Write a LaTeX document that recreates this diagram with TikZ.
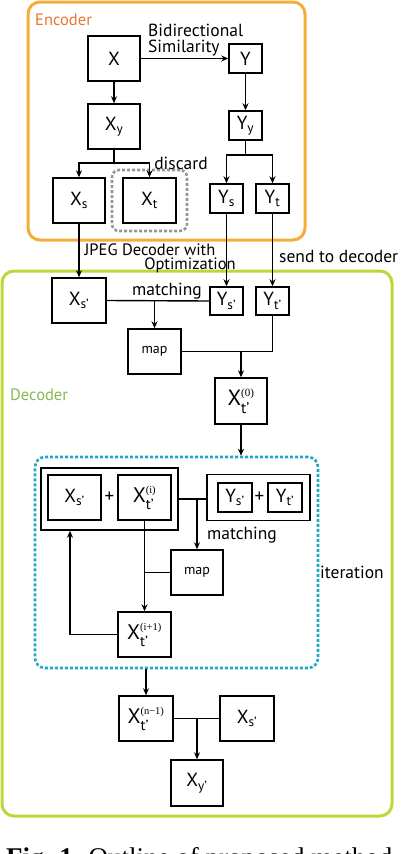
\documentclass[tikz,border=0pt]{standalone}
\usepackage{fontspec}
\usepackage{amsmath}
\setmainfont{PT Sans}
\newfontfamily\capfont{Liberation Serif}
\usetikzlibrary{arrows.meta}

\definecolor{encorange}{RGB}{246,172,58}
\definecolor{enctext}{RGB}{232,118,52}
\definecolor{decgreen}{RGB}{190,214,58}
\definecolor{dectext}{RGB}{130,186,80}
\definecolor{itercyan}{RGB}{30,168,200}
\definecolor{discgray}{RGB}{150,150,150}

\newcommand{\Xtsup}[1]{X$_{\text{t'}}^{\scriptscriptstyle\text{\capfont #1}}$}

\tikzset{
	blk/.style={draw, line width=1.5pt, inner sep=0pt, font=\fontsize{19}{19}\selectfont},
	big/.style={blk, minimum width=52pt, minimum height=45pt},
	sml/.style={blk, minimum width=33pt, minimum height=29pt},
	arr/.style={-{Stealth[length=7pt,width=6pt]}, line width=1.4pt},
	con/.style={line width=1.4pt},
	lbl/.style={font=\fontsize{17.5}{16.5}\selectfont, inner sep=0pt},
}

\begin{document}
\begin{tikzpicture}[x=1pt,y=-1pt]
	\useasboundingbox (0,0) rectangle (402,854);
	
	% frames
	\draw[encorange, line width=3pt, rounded corners=12pt] (28,2) rectangle (305,240);
	\draw[decgreen, line width=3pt, rounded corners=12pt] (2,271) rectangle (392,816);
	\node[draw=itercyan, line width=2.6pt, dash pattern=on 3pt off 2pt, rounded corners=10pt, minimum width=283pt, minimum height=211pt] (iter) at (176.5,562.5) {};
	\node[draw=discgray, line width=2.6pt, dash pattern=on 3pt off 2pt, rounded corners=7pt, minimum width=75pt, minimum height=61pt] (disc) at (149.5,200.5) {};
	
	\node[lbl, anchor=west, text=enctext, font=\fontsize{16.5}{16}\selectfont] (enc) at (35,20) {Encoder};
	\node[lbl, anchor=west, text=dectext, font=\fontsize{16.5}{16}\selectfont] (dec) at (10,395) {Decoder};
	
	% encoder
	\node[big] (X) at (114,58.5) {X};
	\node[sml] (Y) at (245.5,58.5) {Y};
	\node[big] (Xy) at (114,126.5) {X\textsubscript{y}};
	\node[sml] (Yy) at (245.5,125.5) {Y\textsubscript{y}};
	\node[big] (Xs) at (79,200.5) {X\textsubscript{s}};
	\node[big, minimum width=53pt] (Xt) at (149.5,200.5) {X\textsubscript{t}};
	\node[sml] (Ys) at (226.5,198.5) {Y\textsubscript{s}};
	\node[sml] (Yt) at (272.5,198.5) {Y\textsubscript{t}};
	
	\node[lbl, anchor=west, align=left] (bisim) at (148,40) {Bidirectional\\Similarity};
	\node[lbl] (discard) at (181,163) {discard};
	
	\coordinate (xsplit) at (114,163);
	\coordinate (ysplit) at (245.5,155);
	
	\draw[arr] (X.east) -- (Y.west);
	\draw[arr] (X.south) -- (Xy.north);
	\draw[arr] (Y.south) -- (Yy.north);
	\draw[con] (Xy.south) -- (xsplit);
	\draw[arr] (xsplit) -| (Xs.north);
	\draw[arr] (xsplit) -| (Xt.north);
	\draw[con] (Yy.south) -- (ysplit);
	\draw[arr] (ysplit) -| (Ys.north);
	\draw[arr] (ysplit) -| (Yt.north);
	
	% decoder
	\node[big, minimum width=54pt] (Xsp) at (79,300.5) {X\textsubscript{s'}};
	\node[sml, minimum height=28pt] (Ysp) at (226.5,301) {Y\textsubscript{s'}};
	\node[sml, minimum height=28pt] (Ytp) at (272.5,301) {Y\textsubscript{t'}};
	\node[big, minimum width=53pt, font=\fontsize{14}{14}\selectfont] (map) at (154.5,351.5) {map};
	\node[big, minimum height=46pt, font=\fontsize{22}{22}\selectfont] (Xt0) at (241,401) {\Xtsup{(0)}};
	
	\node[lbl, font=\fontsize{16.5}{16}\selectfont] (jpeg) at (150,250) {JPEG Decoder with};
	\node[lbl, font=\fontsize{16.5}{16}\selectfont] (optim) at (190,265.5) {Optimization};
	\node[lbl, anchor=west] (send) at (279,256) {send to decoder};
	\node[lbl] (match) at (167,291) {matching};
	
	\draw[arr] (Xs.south) -- (Xsp.north);
	\draw[arr] (Ys.south) -- (Ysp.north);
	\draw[arr] (Yt.south) -- (Ytp.north);
	\draw[con] (Xsp.east) -- (Ysp.west);
	\draw[arr] (map.north |- Xsp.east) -- (map.north);
	\draw[con] (map.east) -| (Ytp.south);
	\draw[arr] (map.east -| Xt0.north) -- (Xt0.north);
	\draw[arr] (Xt0.south) -- (Xt0.south |- iter.north);
	
	% iteration
	\node[blk, minimum width=137pt, minimum height=62pt] (grpL) at (109.5,499) {};
	\node[big, minimum width=53pt] (Xsi) at (74.5,497.5) {X\textsubscript{s'}};
	\node[big, minimum width=53pt, font=\fontsize{21}{21}\selectfont] (Xti) at (144.5,497.5) {\Xtsup{(i)}};
	\node[blk, minimum width=103pt, minimum height=46pt] (grpR) at (258.5,497.5) {};
	\node[sml, minimum width=34pt] (Ysi) at (235,497.5) {Y\textsubscript{s'}};
	\node[sml, minimum width=34pt] (Yti) at (285,497.5) {Y\textsubscript{t'}};
	\node[lbl, font=\fontsize{19}{19}\selectfont] (plusL) at (109.5,497) {+};
	\node[lbl, font=\fontsize{19}{19}\selectfont] (plusR) at (259.5,497) {+};
	\node[big, font=\fontsize{14}{14}\selectfont] (map2) at (197,572.5) {map};
	\node[big, minimum width=53pt, font=\fontsize{21}{21}\selectfont] (Xti1) at (144.5,634.5) {\Xtsup{(i+1)}};
	
	\node[lbl] (match2) at (242,535) {matching};
	\node[lbl, anchor=west] (iterlbl) at (320,572) {iteration};
	
	\coordinate (fb) at (70,634.5);
	
	\draw[con] (grpL.east) -- (grpL.east -| grpR.west);
	\draw[arr] (map2.north |- grpL.east) -- (map2.north);
	\draw[arr] (Xti.south) -- (Xti1.north);
	\draw[con] (map2.west) -- (map2.west -| Xti.south);
	\draw[arr] (Xti1.west) -- (fb) -- (fb |- grpL.south);
	
	% output
	\node[big, minimum width=54pt, font=\fontsize{21}{21}\selectfont] (Xtn) at (146,718.5) {\Xtsup{(n−1)}};
	\node[big, minimum width=54pt] (Xso) at (247,718.5) {X\textsubscript{s'}};
	\node[big, minimum height=46pt] (Xyo) at (197,783) {X\textsubscript{y'}};
	
	\draw[arr] (iter.south -| Xtn.north) -- (Xtn.north);
	\draw[con] (Xtn.east) -- (Xso.west);
	\draw[arr] (Xtn.east -| Xyo.north) -- (Xyo.north);
	
	% caption, cut by the page edge
	\node[anchor=base west, inner sep=0pt, font=\capfont\fontsize{27}{27}\selectfont] (cap) at (6,866) {\textbf{Fig. 1.} Outline of proposed method};
\end{tikzpicture}
\end{document}
